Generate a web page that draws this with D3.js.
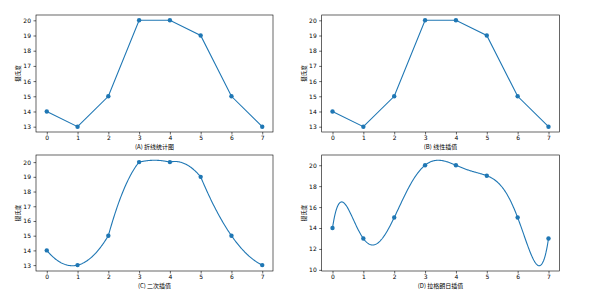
<!DOCTYPE html>
<html>
<head>
<meta charset="utf-8">
<script src="https://cdn.jsdelivr.net/npm/d3@7"></script>
<style>
  body { margin: 0; background: #fff; }
  text { font-family: "DejaVu Sans", sans-serif; }
  .cjk { font-family: "Noto Sans CJK SC", sans-serif; }
</style>
</head>
<body>
<div id="chart"></div>
<script>
const width = 600
const height = 303

// data
const days = [0, 1, 2, 3, 4, 5, 6, 7]
const temps = [14, 13, 15, 20, 20, 19, 15, 13]
const xTicks = [0, 1, 2, 3, 4, 5, 6, 7]
const yTicksA = [13, 14, 15, 16, 17, 18, 19, 20]
const yTicksD = [10, 12, 14, 16, 18, 20]
const titles = ["(A) 折线统计图", "(B) 线性插值", "(C) 二次插值", "(D) 拉格朗日插值"]
const yLabel = "摄氏度"

const color = "#1f77b4"

// lagrange polynomial through the given points
function lagrangeAt(xs, ys, x) {
  return d3.sum(xs, (xi, i) => {
    let l = ys[i]
    xs.forEach((xj, j) => { if (j !== i) l *= (x - xj) / (xi - xj) })
    return l
  })
}

// quadratic: parabola through point i, i+1, i+2 for each segment
function quadAt(x) {
  const i = Math.min(Math.floor(x), days.length - 3)
  return lagrangeAt(days.slice(i, i + 3), temps.slice(i, i + 3), x)
}

const fine = d3.range(0, 7.0001, 7 / 350)

const panels = [
  { left: 36, top: 15, right: 273, bottom: 132, curve: days.map((d, i) => [d, temps[i]]), ticks: yTicksA },
  { left: 321.7, top: 15, right: 559.3, bottom: 132, curve: days.map((d, i) => [d, temps[i]]), ticks: yTicksA },
  { left: 36, top: 155, right: 273, bottom: 271, curve: fine.map(x => [x, quadAt(x)]), ticks: yTicksA },
  { left: 321.7, top: 155, right: 559.3, bottom: 271, curve: fine.map(x => [x, lagrangeAt(days, temps, x)]), ticks: yTicksD }
]

const svg = d3.select("#chart").append("svg").attr("width", width).attr("height", height)

panels.forEach((p, k) => {
  const yExt = d3.extent(p.curve.map(d => d[1]).concat(temps))
  const pad = (yExt[1] - yExt[0]) * 0.05
  const x = d3.scaleLinear().domain([-0.35, 7.35]).range([p.left, p.right])
  const y = d3.scaleLinear().domain([yExt[0] - pad, yExt[1] + pad]).range([p.bottom, p.top])

  const g = svg.append("g")

  const xAxis = d3.axisBottom(x).tickValues(xTicks).tickSize(2.5).tickPadding(1.5).tickFormat(d3.format("d"))
  const yAxis = d3.axisLeft(y).tickValues(p.ticks).tickSize(2.5).tickPadding(2.5).tickFormat(d3.format("d"))

  g.append("g").attr("transform", `translate(0,${p.bottom})`).call(xAxis)
  g.append("g").attr("transform", `translate(${p.left},0)`).call(yAxis)
  g.selectAll(".domain").remove()
  g.selectAll(".tick line").attr("stroke", "#000").attr("stroke-width", 0.6)
  g.selectAll(".tick text").attr("font-size", 6).attr("fill", "#000").attr("font-family", "DejaVu Sans")

  g.append("path")
    .datum(p.curve)
    .attr("fill", "none")
    .attr("stroke", color)
    .attr("stroke-width", 1.1)
    .attr("d", d3.line().x(d => x(d[0])).y(d => y(d[1])))

  g.selectAll("circle").data(days).enter().append("circle")
    .attr("cx", d => x(d))
    .attr("cy", (d, i) => y(temps[i]))
    .attr("r", 2.2)
    .attr("fill", color)

  g.append("rect")
    .attr("x", p.left).attr("y", p.top)
    .attr("width", p.right - p.left).attr("height", p.bottom - p.top)
    .attr("fill", "none").attr("stroke", "#000").attr("stroke-width", 0.6)

  g.append("text").attr("class", "cjk")
    .attr("x", (p.left + p.right) / 2).attr("y", p.bottom + 17)
    .attr("text-anchor", "middle").attr("font-size", 6)
    .text(titles[k])

  g.append("text").attr("class", "cjk")
    .attr("transform", `translate(${p.left - 16},${(p.top + p.bottom) / 2}) rotate(-90)`)
    .attr("text-anchor", "middle").attr("font-size", 5.5)
    .text(yLabel)
})
</script>
</body>
</html>
